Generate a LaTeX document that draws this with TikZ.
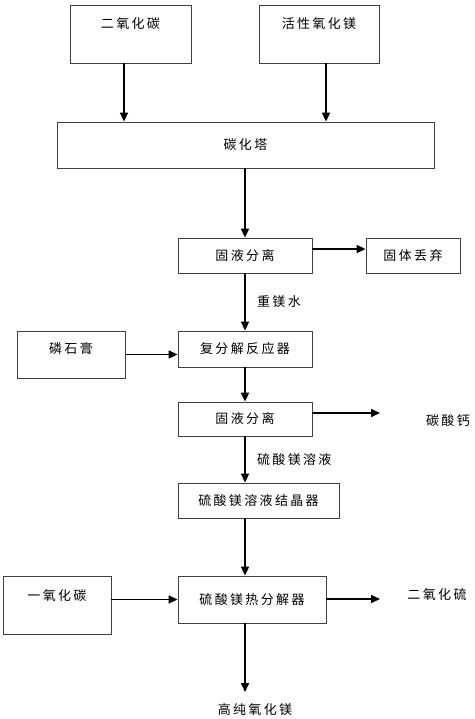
\documentclass[tikz,border=0pt]{standalone}
\usepackage{fontspec}
\setmainfont{Noto Sans CJK SC}[LetterSpace=18]
\usetikzlibrary{arrows.meta}

\begin{document}
\begin{tikzpicture}[x=1pt,y=-1pt,font=\fontsize{13}{15}\selectfont,
    box/.style={draw=black!75,line width=0.8pt,minimum width=#1,inner sep=0pt},
    raised/.style={text height=12pt,text depth=#1},
    flow/.style={-{Triangle[length=9pt,width=8pt]},line width=1.6pt}]
    \useasboundingbox (0,0) rectangle (474,719);

    % Raw materials
    \node[box=121,minimum height=58,raised=22pt] (co2) at (130.5,34) {二氧化碳};
    \node[box=120,minimum height=58,raised=22pt] (mgo) at (319,34) {活性氧化镁};
    \node[box=377,minimum height=46] (tower) at (245.5,145) {碳化塔};

    % First separation
    \node[box=134,minimum height=35] (sep1) at (245,255.5) {固液分离};
    \node[box=94,minimum height=35] (waste) at (413,255.5) {固体丢弃};

    % Reactor
    \node[box=134,minimum height=36] (react) at (245,349) {复分解反应器};
    \node[box=108,minimum height=47,raised=15pt] (gyps) at (71,354.5) {磷石膏};

    % Second separation
    \node[box=134,minimum height=34] (sep2) at (245,419) {固液分离};
    \node (caco3) at (448,421) {碳酸钙};
    \coordinate (caco3in) at (380,413);

    % Crystallizer and decomposer
    \node[box=161,minimum height=35] (cryst) at (258.5,500.5) {硫酸镁溶液结晶器};
    \node[box=148,minimum height=47] (decomp) at (252,599.5) {硫酸镁热分解器};
    \node[box=108,minimum height=58,raised=22pt] (co) at (57,605) {一氧化碳};
    \node (so2) at (437,595) {二氧化硫};
    \coordinate (so2in) at (380,599);
    \node (prod) at (255,710) {高纯氧化镁};
    \coordinate (prodin) at (245,692);

    % Flows
    \draw[flow] ([xshift=-6.5pt]co2.south) -- ([xshift=-6.5pt]co2.south |- tower.north);
    \draw[flow] ([xshift=7pt]mgo.south) -- ([xshift=7pt]mgo.south |- tower.north);
    \draw[flow] (sep1.north |- tower.south) -- (sep1.north);
    \draw[flow] ([yshift=6.5pt]sep1.east) -- ([yshift=6.5pt]waste.west);
    \draw[flow] (sep1.south) -- (react.north)
        node[midway,right=8pt] {重镁水};
    \draw[flow] (gyps.east) -- (gyps.east -| react.west);
    \draw[flow] (react.south) -- (sep2.north);
    \draw[flow] (sep2.east |- caco3in) -- (caco3in);
    \draw[flow] (sep2.south) -- (sep2.south |- cryst.north)
        node[midway,right=8pt] {硫酸镁溶液};
    \draw[flow] (sep2.south |- cryst.south) -- (sep2.south |- decomp.north);
    \draw[flow] (decomp.west -| co.east) -- (decomp.west);
    \draw[flow] (decomp.east |- so2in) -- (so2in);
    \draw[flow] (prodin |- decomp.south) -- (prodin);
\end{tikzpicture}
\end{document}
